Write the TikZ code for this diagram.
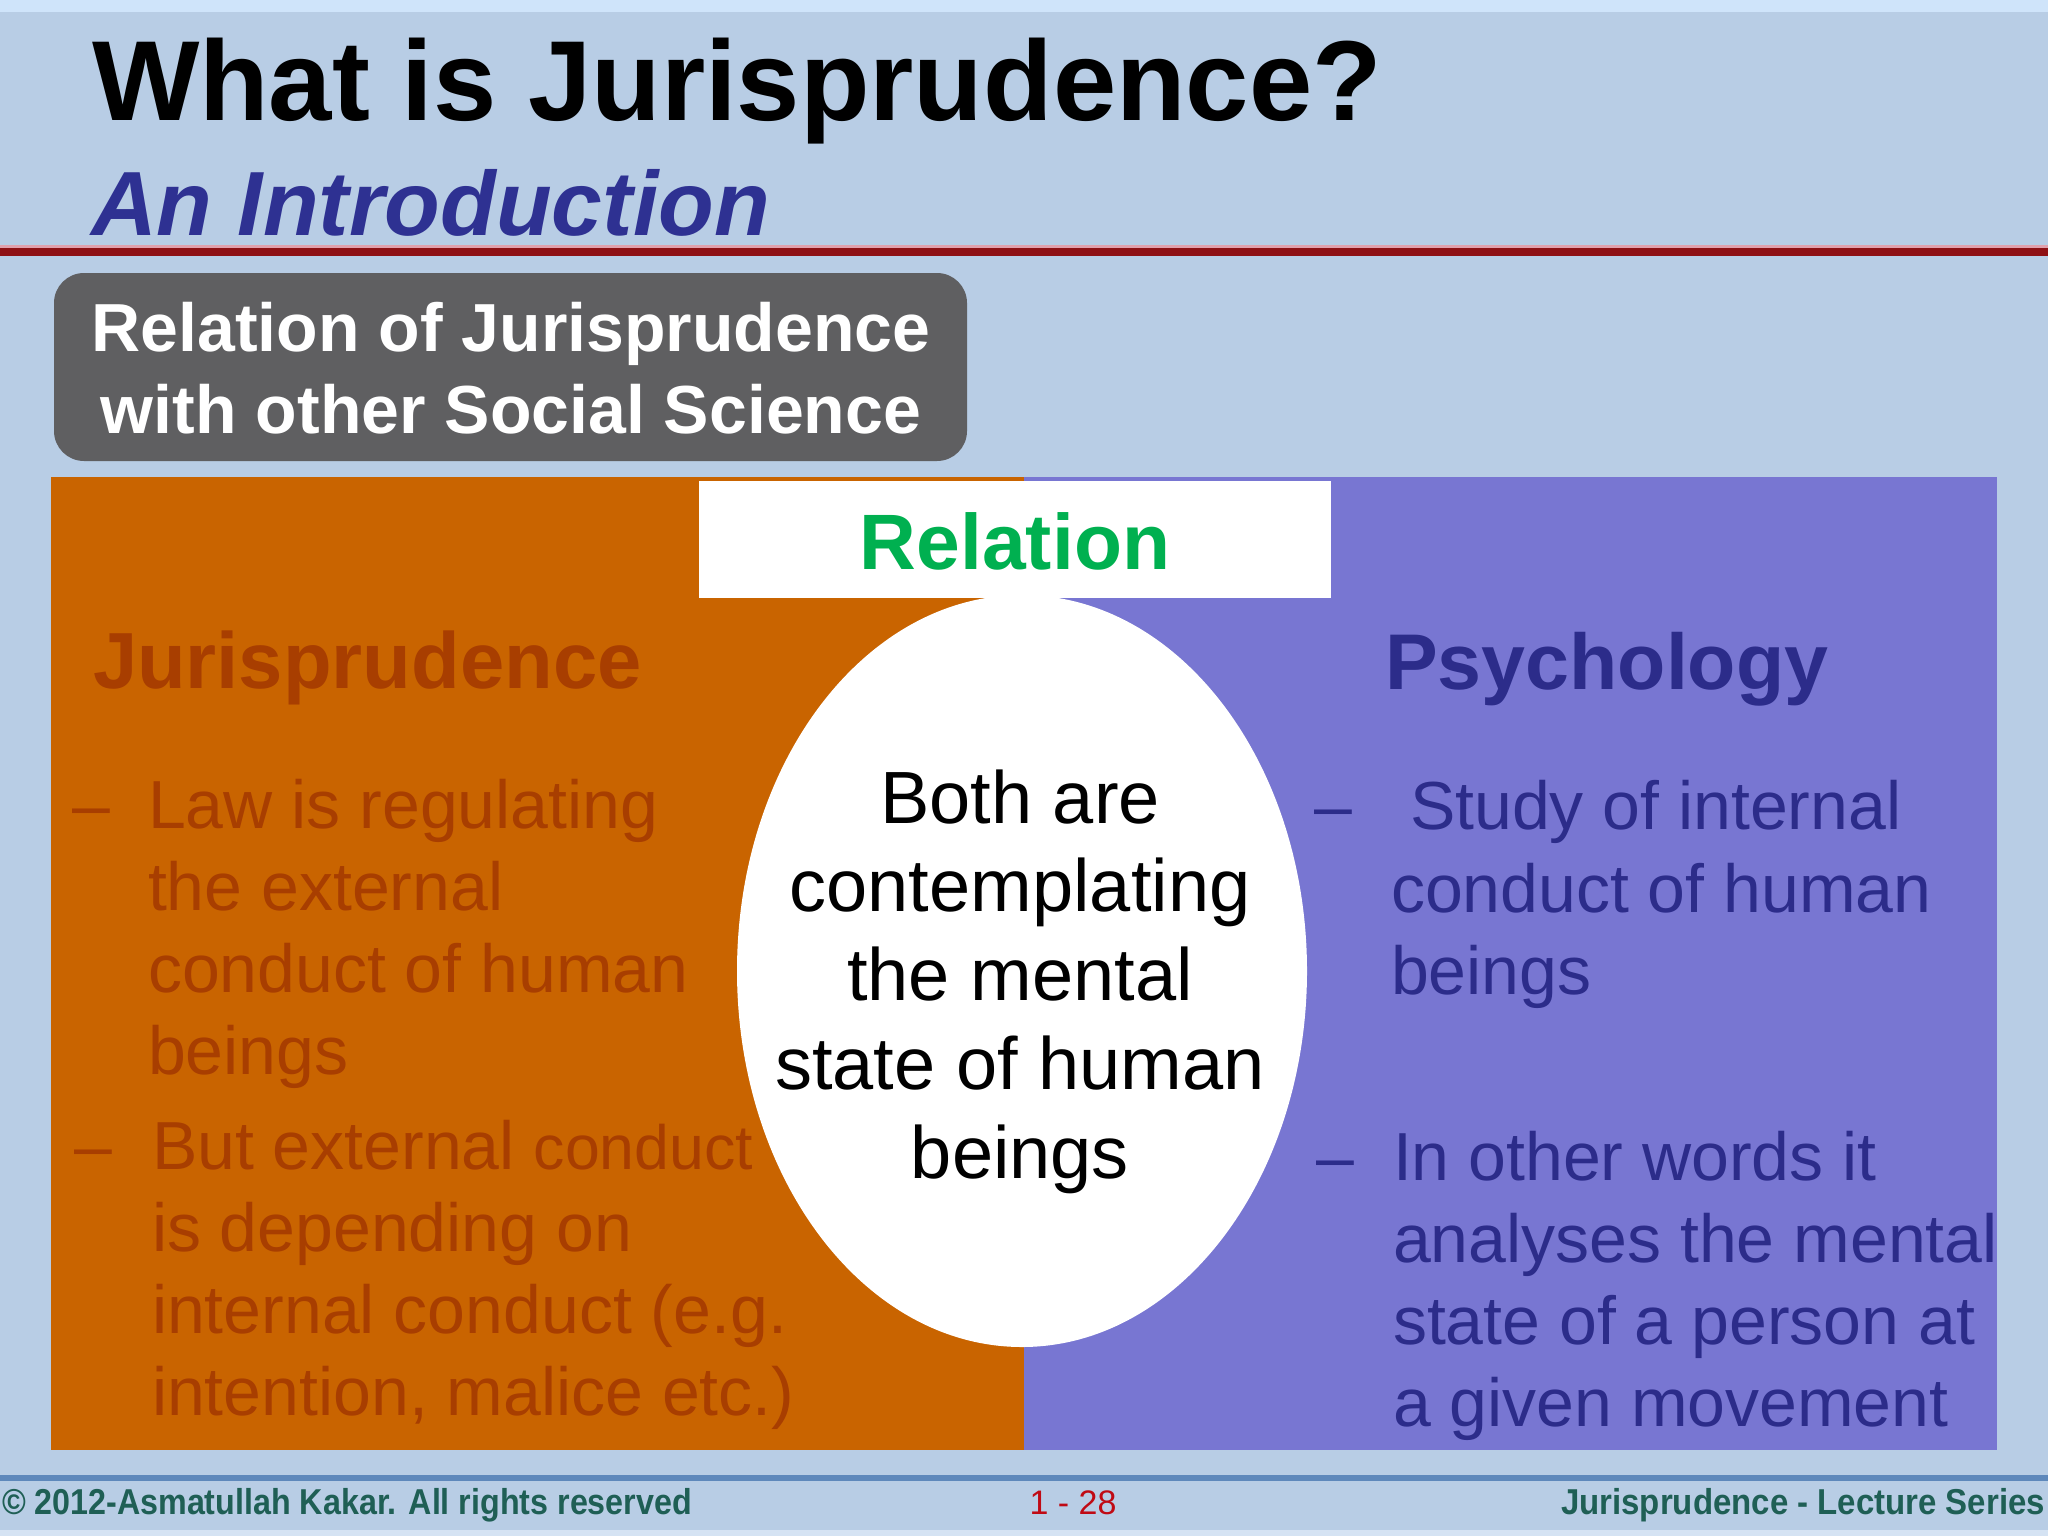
\documentclass[tikz,border=0pt]{standalone}
\usepackage{fontspec}
\usepackage{graphicx}
\setmainfont{Liberation Sans}
\definecolor{bgblue}{HTML}{B8CDE5}
\definecolor{topband}{HTML}{CFE4FA}
\definecolor{lowband}{HTML}{D5E3F3}
\definecolor{redline}{HTML}{8E1014}
\definecolor{pinkline}{HTML}{E0A0AC}
\definecolor{footline}{HTML}{5E88BB}
\definecolor{greybox}{HTML}{5F5F61}
\definecolor{orangep}{HTML}{C96400}
\definecolor{purplep}{HTML}{7876D2}
\definecolor{orangetxt}{HTML}{A83E00}
\definecolor{purpletxt}{HTML}{2C2C8A}
\definecolor{subblue}{HTML}{2E3192}
\definecolor{relgreen}{HTML}{00B050}
\definecolor{foottxt}{HTML}{1F5F55}
\definecolor{pagered}{HTML}{C00A14}
\newcommand{\fsz}[2]{\fontsize{#1}{#2}\selectfont}
\newcommand{\llines}[1]{\begin{tabular}[t]{@{}l@{}}#1\end{tabular}}
\newcommand{\clines}[1]{\begin{tabular}[t]{@{}c@{}}#1\end{tabular}}
\tikzset{
  txt/.style={inner sep=0pt,outer sep=0pt,anchor=base west},
  ctxt/.style={inner sep=0pt,outer sep=0pt,anchor=base},
  ltxt/.style={txt,text=orangetxt,font=\fsz{34}{41}},
  rtxt/.style={txt,text=purpletxt,font=\fsz{34}{41}},
  foot/.style={txt,text=foottxt,font=\fsz{18}{21}\bfseries}
}
\begin{document}
\begin{tikzpicture}[x=0.5pt,y=-0.5pt]
\useasboundingbox (0,0) rectangle (2048,1536);
\fill[bgblue] (0,0) rectangle (2048,1536);
\fill[topband] (0,0) rectangle (2048,12);
\fill[lowband] (0,1530) rectangle (2048,1536);
\fill[pinkline] (0,245) rectangle (2048,249);
\fill[redline] (0,248) rectangle (2048,256);
\fill[footline] (0,1475) rectangle (2048,1481);
% title
\node[txt,font=\fsz{56.9}{68}\bfseries] (title) at (92,120) {What is Jurisprudence?};
\node[txt,text=subblue,font=\fsz{45.6}{54}\bfseries\itshape] (subtitle) at (91,235) {An Introduction};
% grey box
\fill[greybox,rounded corners=15pt] (54,273) rectangle (967,461);
\node[ctxt,text=white,font=\fsz{34}{41}\bfseries] (boxtext) at (511,351) {\clines{Relation of Jurisprudence\\with other Social Science}};
% panels
\fill[orangep] (51,477) rectangle (1024,1450);
\fill[purplep] (1024,477) rectangle (1997,1450);
\node[draw=none,fill=white,minimum width=316pt,minimum height=58.5pt,inner sep=0pt] (relbox) at (1015,539.5) {};
\node[ctxt,text=relgreen,font=\fsz{39.3}{47}\bfseries] (relation) at (1015,569) {Relation};
\fill[white] (1022,971) ellipse [x radius=285,y radius=376];
\node[ctxt,font=\fsz{37}{44.4}] (both) at (1020,823) {\clines{Both are\\contemplating\\the mental\\state of human\\beings}};
% left
\node[txt,text=orangetxt,font=\fsz{39.8}{47}\bfseries] (jur) at (93,688) {Jurisprudence};
\node[ltxt] (ld1) at (72,828) {–};
\node[ltxt] (l1) at (148,828) {\llines{Law is regulating\\the external\\conduct of human\\beings}};
\node[ltxt] (ld2) at (74,1169) {–};
\node[ltxt] (l2) at (152,1169) {\llines{But external {\fsz{31.3}{41}conduct}\\is depending on\\internal conduct (e.g.\\intention, malice etc.)}};
% right
\node[txt,text=purpletxt,font=\fsz{39.5}{47}\bfseries] (psy) at (1385,689) {Psychology};
\node[rtxt] (rd1) at (1314,829) {–};
\node[rtxt] (r1a) at (1410,829) {Study of internal};
\node[rtxt] (r1) at (1391,912) {\llines{conduct of human\\beings}};
\node[rtxt] (rd2) at (1316,1180) {–};
\node[rtxt] (r2) at (1393,1180) {\llines{In other words it\\analyses the mental\\state of a person at\\a given movement}};
% footer
\node[foot] (fl) at (2,1514) {\resizebox{345pt}{\height}{© 2012-Asmatullah Kakar. All rights reserved}};
\node[ctxt,text=pagered,font=\fsz{17}{20}] (fc) at (1073,1514) {1 - 28};
\node[foot] (fr) at (1561,1514) {\resizebox{242pt}{\height}{Jurisprudence - Lecture Series}};
\end{tikzpicture}
\end{document}
